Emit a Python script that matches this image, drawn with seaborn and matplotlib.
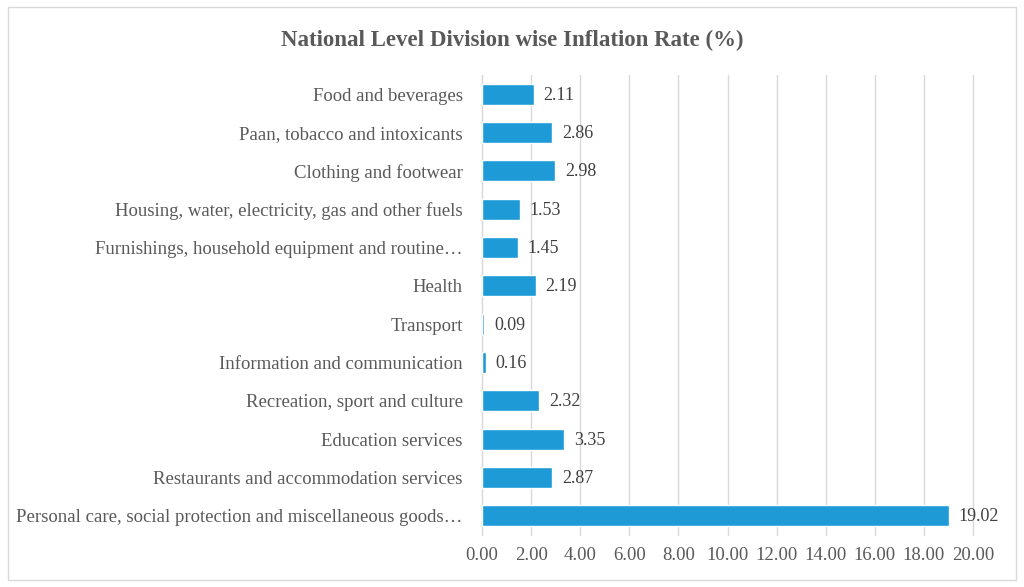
import matplotlib
matplotlib.use("Agg")
import matplotlib.pyplot as plt
import seaborn as sns
import pandas as pd
from matplotlib.patches import Rectangle

categories = [
    "Food and beverages",
    "Paan, tobacco and intoxicants",
    "Clothing and footwear",
    "Housing, water, electricity, gas and other fuels",
    "Furnishings, household equipment and routine\u2026",
    "Health",
    "Transport",
    "Information and communication",
    "Recreation, sport and culture",
    "Education services",
    "Restaurants and accommodation services",
    "Personal care, social protection and miscellaneous goods\u2026",
]
rates = [2.11, 2.86, 2.98, 1.53, 1.45, 2.19, 0.09, 0.16, 2.32, 3.35, 2.87, 19.02]
xticks = [0, 2, 4, 6, 8, 10, 12, 14, 16, 18, 20]

df = pd.DataFrame({"division": categories, "rate": rates})

sns.set_style("white")
plt.rcParams["font.family"] = ["Liberation Serif", "DejaVu Serif"]

text_color = "#595959"
bar_color = "#1E9BD7"

fig = plt.figure(figsize=(10.24, 5.87), dpi=100)
ax = fig.add_axes([482 / 1024, 1 - 535 / 587, (973 - 482) / 1024, (535 - 75) / 587])

sns.barplot(data=df, x="rate", y="division", color=bar_color, width=0.55,
            saturation=1, ax=ax, zorder=3)

for i, v in enumerate(rates):
    ax.text(v + 0.4, i + 0.03, f"{v:.2f}", va="center", ha="left",
            fontsize=13, color="#404040")

ax.set_xlim(0, 20)
ax.set_ylim(len(categories) - 0.5, -0.5)
ax.set_xticks(xticks)
ax.set_xticklabels([f"{t:.2f}" for t in xticks])
ax.xaxis.grid(True, color="#D9D9D9", linewidth=1, zorder=0)
for gl in ax.get_xgridlines():
    gl.set_clip_on(False)
ax.set_axisbelow(True)
for s in ["top", "right", "bottom"]:
    ax.spines[s].set_visible(False)
ax.spines["left"].set_color("#D9D9D9")
ax.tick_params(axis="both", length=0, labelsize=13.5, labelcolor=text_color)
ax.tick_params(axis="x", pad=9)
ax.tick_params(axis="y", pad=14)
ax.set_xlabel("")
ax.set_ylabel("")

fig.text(0.5, 1 - 40 / 587, "National Level Division wise Inflation Rate (%)",
         ha="center", va="center", fontsize=16.5, fontweight="bold", color=text_color)

fig.patches.append(Rectangle((8 / 1024, 7 / 587), 1008 / 1024, 573 / 587,
                             transform=fig.transFigure, fill=False,
                             edgecolor="#D9D9D9", linewidth=1))

fig.savefig("out.png", dpi=100)
plt.close(fig)
